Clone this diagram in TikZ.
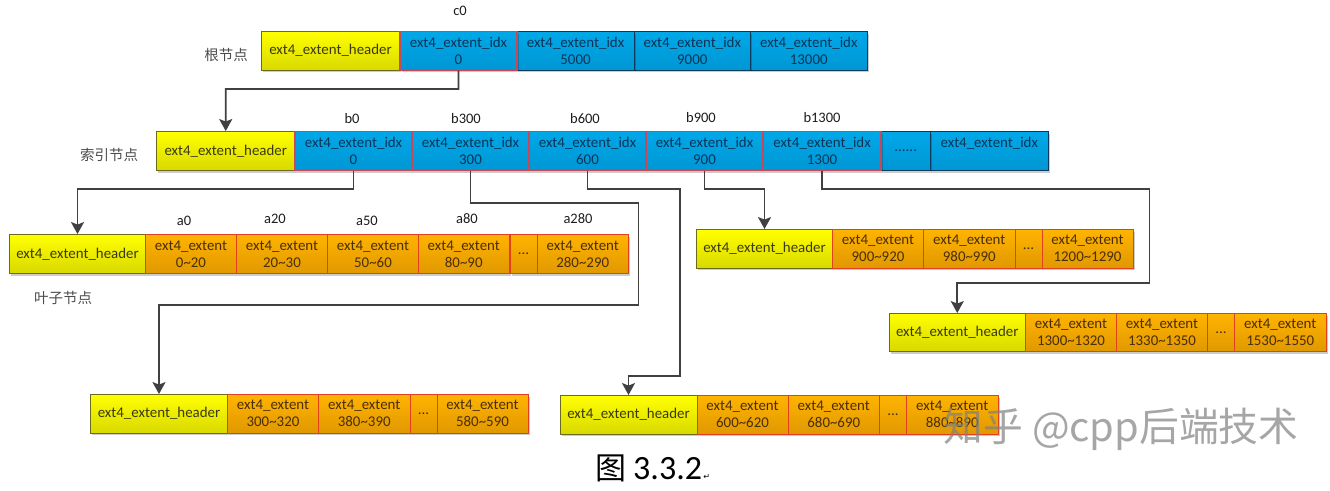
\documentclass[tikz,border=0pt]{standalone}
\usepackage{fontspec}
\setmainfont{Carlito}
\newfontfamily\cjk{Noto Sans CJK SC}
\newfontfamily\djv{DejaVu Sans}
\usetikzlibrary{shadows,arrows.meta}
\definecolor{txt}{HTML}{1C1C1C}
\definecolor{idxtop}{HTML}{00A8E8}
\definecolor{idxbot}{HTML}{0096D4}
\definecolor{idxline}{HTML}{0B3A5E}
\definecolor{idxred}{HTML}{C8485A}
\definecolor{idxtxt}{HTML}{0A3558}
\definecolor{exttop}{HTML}{FFB400}
\definecolor{extbot}{HTML}{E09800}
\definecolor{extline}{HTML}{E2401E}
\definecolor{exttxt}{HTML}{4A2E08}
\definecolor{arrcol}{HTML}{404040}
\definecolor{hdrline}{HTML}{6B6B20}
\definecolor{hdrtxt}{HTML}{3A3A10}
\tikzset{
  cellbase/.style={draw,line width=0.9pt,inner sep=0pt,align=center,text=txt,
    font=\fontsize{14.9}{17}\selectfont,
    drop shadow={shadow xshift=1.5pt,shadow yshift=-2pt,opacity=.2,fill=black}},
  hdr/.style={cellbase,draw=hdrline,text=hdrtxt,top color=yellow,bottom color=yellow!85!black},
  idxredc/.style={cellbase,draw=idxred,line width=1.1pt,text=idxtxt,top color=idxtop,bottom color=idxbot},
  idxblk/.style={cellbase,draw=idxline,text=idxtxt,top color=idxtop,bottom color=idxbot},
  ext/.style={cellbase,draw=extline,text=exttxt,top color=exttop,bottom color=extbot},
  arr/.style={draw=arrcol,line width=1.9pt,-{Stealth[length=12pt,width=13pt,inset=2.5pt]}},
  lab/.style={font=\fontsize{14.5}{15}\selectfont,text=txt,inner sep=0pt},
  zh/.style={font=\cjk\fontsize{14.5}{15}\selectfont,text=black!70,inner sep=0pt},
}
\newcommand{\cell}[7]{%
  \pgfmathsetmacro{\cx}{(#3+#4)/2}%
  \pgfmathsetmacro{\cy}{(#5+#6)/2}%
  \pgfmathsetmacro{\cw}{#4-#3}%
  \pgfmathsetmacro{\ch}{#6-#5}%
  \node[#2,minimum width=\cw pt,minimum height=\ch pt] (#1) at (\cx,\cy) {#7};}
\begin{document}
\begin{tikzpicture}[x=1pt,y=-1pt]
\useasboundingbox (0,0) rectangle (1330,490);
% root
\cell{rh}{hdr}{261.5}{399.5}{31.5}{70}{ext4\_extent\_header}
\cell{r3}{idxblk}{750.5}{867}{31.5}{70}{ext4\_extent\_idx\\13000}
\cell{r2}{idxblk}{634}{750.5}{31.5}{70}{ext4\_extent\_idx\\9000}
\cell{r1}{idxblk}{517}{634}{31.5}{70}{ext4\_extent\_idx\\5000}
\cell{r0}{idxredc}{400}{517}{31.5}{70}{ext4\_extent\_idx\\0}
% index
\cell{ih}{hdr}{156.5}{295}{131.5}{170.5}{ext4\_extent\_header}
\cell{i6}{idxblk}{930.5}{1048}{131.5}{170.5}{ext4\_extent\_idx\\\phantom{0}}
\cell{i5}{idxblk}{881}{930.5}{131.5}{170.5}{......}
\cell{i0}{idxredc}{295}{412}{131.5}{170.5}{ext4\_extent\_idx\\0}
\cell{i1}{idxredc}{412}{529}{131.5}{170.5}{ext4\_extent\_idx\\300}
\cell{i2}{idxredc}{529}{646}{131.5}{170.5}{ext4\_extent\_idx\\600}
\cell{i3}{idxredc}{646}{763}{131.5}{170.5}{ext4\_extent\_idx\\900}
\cell{i4}{idxredc}{763}{881}{131.5}{170.5}{ext4\_extent\_idx\\1300}
% leaf A
\cell{ah}{hdr}{9.5}{145.5}{234.5}{273.5}{ext4\_extent\_header}
\cell{a0}{ext}{145.5}{236.5}{234.5}{273.5}{ext4\_extent\\0\textasciitilde 20}
\cell{a1}{ext}{236.5}{327.5}{234.5}{273.5}{ext4\_extent\\20\textasciitilde 30}
\cell{a2}{ext}{327.5}{418.5}{234.5}{273.5}{ext4\_extent\\50\textasciitilde 60}
\cell{a3}{ext}{418.5}{509}{234.5}{273.5}{ext4\_extent\\80\textasciitilde 90}
\cell{a4}{ext}{510}{537}{234.5}{273.5}{...}
\cell{a5}{ext}{537}{628.5}{234.5}{273.5}{ext4\_extent\\280\textasciitilde 290}
% leaf B (900)
\cell{bh}{hdr}{696.5}{832.5}{229.5}{268}{ext4\_extent\_header}
\cell{b0}{ext}{832.5}{923.5}{229.5}{268}{ext4\_extent\\900\textasciitilde 920}
\cell{b1}{ext}{923.5}{1015}{229.5}{268}{ext4\_extent\\980\textasciitilde 990}
\cell{b2}{ext}{1015}{1042}{229.5}{268}{...}
\cell{b3}{ext}{1042}{1133}{229.5}{268}{ext4\_extent\\1200\textasciitilde 1290}
% leaf C (1300)
\cell{ch}{hdr}{889}{1025.5}{313.5}{351.5}{ext4\_extent\_header}
\cell{c0}{ext}{1025.5}{1116.5}{313.5}{351.5}{ext4\_extent\\1300\textasciitilde 1320}
\cell{c1}{ext}{1116.5}{1207.5}{313.5}{351.5}{ext4\_extent\\1330\textasciitilde 1350}
\cell{c2}{ext}{1207.5}{1234.5}{313.5}{351.5}{...}
\cell{c3}{ext}{1234.5}{1326}{313.5}{351.5}{ext4\_extent\\1530\textasciitilde 1550}
% leaf D (300)
\cell{dh}{hdr}{90.5}{227.5}{394.5}{433}{ext4\_extent\_header}
\cell{d0}{ext}{227.5}{318.5}{394.5}{433}{ext4\_extent\\300\textasciitilde 320}
\cell{d1}{ext}{318.5}{410}{394.5}{433}{ext4\_extent\\380\textasciitilde 390}
\cell{d2}{ext}{410}{437}{394.5}{433}{...}
\cell{d3}{ext}{437}{528}{394.5}{433}{ext4\_extent\\580\textasciitilde 590}
% leaf E (600)
\cell{eh}{hdr}{560}{697}{395.5}{434}{ext4\_extent\_header}
\cell{e0}{ext}{697}{788}{395.5}{434}{ext4\_extent\\600\textasciitilde 620}
\cell{e1}{ext}{788}{879.5}{395.5}{434}{ext4\_extent\\680\textasciitilde 690}
\cell{e2}{ext}{879.5}{906.5}{395.5}{434}{...}
\cell{e3}{ext}{906.5}{998}{395.5}{434}{ext4\_extent\\880\textasciitilde 890}
% connectors
\coordinate (k1) at (638.5,203);
\coordinate (k2) at (638.5,305);
\coordinate (k3) at (680,189);
\coordinate (k4) at (680,376);
\coordinate (k5) at (1149.5,189);
\coordinate (k6) at (1149.5,283);
\draw[arr] (r0.south) |- (225.7,89) -- (ih.north);
\draw[arr] (i0.south) |- (77.5,189) -- (ah.north);
\draw[arr] (i1.south) |- (k1) -- (k2) -| (dh.north);
\draw[arr] (i2.south) |- (k3) -- (k4) -| (eh.north);
\draw[arr] (i3.south) |- (764.5,189) -- (bh.north);
\draw[arr] (i4.south) |- (k5) -- (k6) -| (ch.north);
% labels
\node[lab] (lc0) at (460,11) {c0};
\node[lab] (lb0) at (352,119) {b0};
\node[lab] (lb1) at (466,118.5) {b300};
\node[lab] (lb2) at (585,118.5) {b600};
\node[lab] (lb3) at (701,118) {b900};
\node[lab] (lb4) at (822,118) {b1300};
\node[lab] (la0) at (184,221) {a0};
\node[lab] (la1) at (275,219) {a20};
\node[lab] (la2) at (367,221) {a50};
\node[lab] (la3) at (467,219) {a80};
\node[lab] (la4) at (578,219) {a280};
\node[zh] (z1) at (226,55) {根节点};
\node[zh] (z2) at (109,155) {索引节点};
\node[zh] (z3) at (63,298) {叶子节点};
\node[inner sep=0pt,anchor=base west,text=black] (cap) at (595,479)
  {\cjk\fontsize{31}{33}\selectfont 图\hspace{7pt}\rmfamily\fontsize{34}{35}\selectfont 3.3.2{\djv\fontsize{8}{8}\selectfont\,↵}};
\node[inner sep=0pt,text=black!50,opacity=.7] (wm) at (1121,429)
  {\cjk\fontsize{39.8}{42}\selectfont 知乎 @cpp后端技术};
\end{tikzpicture}
\end{document}
